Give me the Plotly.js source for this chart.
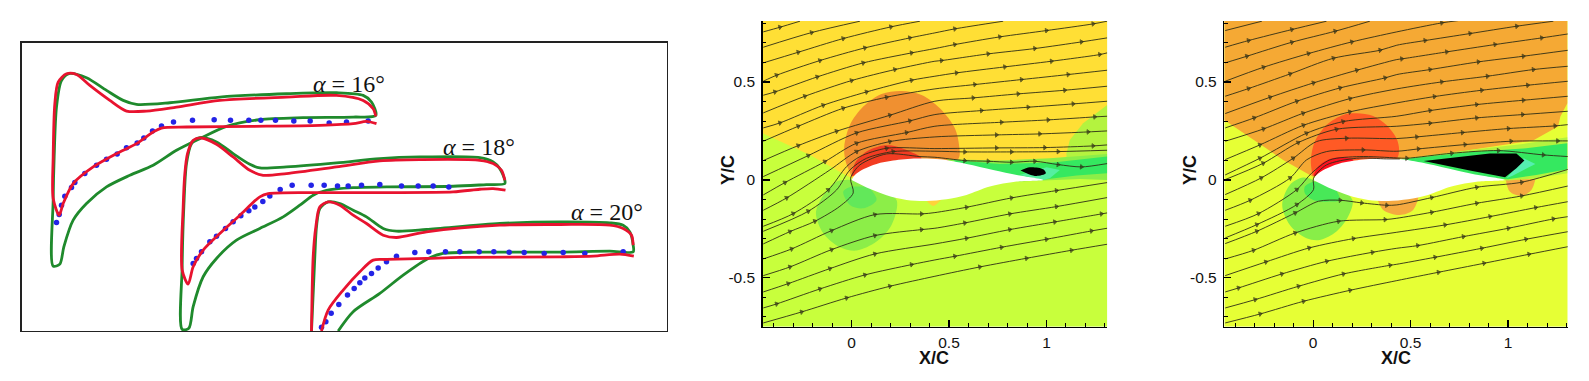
<!DOCTYPE html>
<html><head><meta charset="utf-8">
<script src="https://cdn.plot.ly/plotly-3.0.1.min.js"></script>
<style>html,body{margin:0;padding:0;background:#fff}</style></head>
<body><div id="g" style="width:1589px;height:381px"></div>
<script>
// ---- left panel: Cp-type curves, digitised units (no visible scale) ----
const g16x=[100,120,132,160,200,260,330,400,470,540,620,720,850,1000,1068,1055,1030,950,800,600,450,350,310,260,200,150,125,110,103,100,100];
const g16y=[678,672,620,540,490,440,405,375,330,295,258,238,232,230,225,185,165,157,160,170,187,192,180,150,112,99,120,200,350,480,678];
const r16x=[1070,1040,1000,900,700,500,425,400,350,290,220,160,130,118,100,100,105,115,140,170,210,270,320,380,470,600,800,950,1030,1060,1068];
const r16y=[250,243,250,255,258,260,263,275,310,340,380,430,490,525,475,350,190,125,100,102,135,180,212,212,200,180,170,165,180,205,228];
const b16x=[110,118,125,135,155,165,195,230,260,292,320,352,372,398,425,461,518,583,632,687,723,767,822,871,928,980,1045];
const b16y=[547,523,495,468,442,427,400,375,357,341,322,308,293,272,257,245,240,238,240,240,240,240,242,242,248,245,242];
const g18x=[487,507,520,550,590,650,720,790,840,880,920,1000,1100,1300,1400,1455,1455,1440,1420,1380,1200,1080,950,800,720,690,640,590,540,515,500,492,487,487];
const g18y=[868,865,800,710,655,600,565,530,495,465,450,442,440,438,433,430,420,385,365,352,350,355,368,380,383,372,340,305,292,310,370,500,680,868];
const r18x=[1457,1420,1380,1300,1100,900,745,720,660,600,550,520,505,487,490,495,503,520,545,590,640,690,730,800,950,1080,1200,1380,1420,1445,1455];
const r18y=[450,445,447,455,457,457,460,470,525,580,630,680,732,690,500,400,340,300,293,312,350,390,405,400,380,362,358,360,370,390,420];
const b18x=[520,530,545,570,590,617,640,663,687,705,729,750,781,817,874,913,953,985,1025,1080,1145,1195,1240,1287];
const b18y=[670,655,635,605,588,565,545,527,512,500,484,467,448,435,435,435,437,437,435,433,437,437,437,440];
const g20x=[955,1000,1080,1150,1225,1270,1370,1620,1770,1840,1840,1830,1810,1770,1620,1440,1220,1130,1090,1040,1000,960,925,900,890,885,875];
const g20y=[873,815,760,705,655,640,636,636,633,635,615,575,555,548,545,550,568,573,565,530,510,490,485,505,560,650,873];
const r20x=[905,925,970,1020,1060,1100,1220,1320,1620,1720,1800,1842];
const r20y=[873,810,750,695,660,658,655,652,650,648,642,648];
const r20tx=[1840,1835,1810,1770,1620,1440,1220,1130,1090,1040,1000,960,925,900,888,880,875];
const r20ty=[615,585,565,555,553,555,575,592,585,550,525,495,485,500,560,650,873];
const b20x=[905,918,934,957,983,1003,1020,1035,1055,1075,1100,1130,1185,1227,1277,1320,1378,1422,1468,1513,1573,1630,1695,1810];
const b20y=[862,845,820,793,765,745,728,714,700,684,665,648,637,635,635,635,635,635,636,637,640,637,640,635];
const alphaLabels=[['<i>α</i> = 16°',988,130],['<i>α</i> = 18°',1377,320],['<i>α</i> = 20°',1761,514]];

// ---- contour panels: digitised in image units, converted to X/C, Y/C below ----
const airfoilRead=[[455,510],[465,495],[490,478],[530,462],[580,452],[650,446],[720,448],[800,462],[880,480],[960,497],[1030,510],[950,515],[870,530],[800,555],[740,568],[680,573],[620,570],[560,556],[500,533]];
const regions2=[
 ['#ffdf35',[[188,370],[330,435],[410,480],[455,505],[530,470],[650,470],[800,480],[1000,470],[1100,440],[1222,440],[1222,33],[188,33]],0],
 ['#b4f33f',[[1100,430],[1110,390],[1150,340],[1222,285],[1222,445],[1100,445]],0],
 ['#f09030',[[455,500],[436,450],[433,410],[450,345],[490,290],[545,252],[605,243],[665,255],[720,295],[765,355],[778,410],[775,447],[650,470],[530,480]],1],
 ['#f23c22',[[455,500],[465,460],[500,425],[550,407],[590,410],[630,425],[665,445],[600,470],[530,480],[480,490]],1],
 ['#8cee48',[[455,510],[410,515],[365,565],[348,610],[370,670],[420,712],[470,722],[530,695],[575,645],[590,570],[540,540],[480,510]],1],
 ['#62e85a',[[455,530],[430,545],[450,585],[490,595],[530,570],[505,530]],1],
 ['#ffd23a',[[670,560],[700,588],[732,560]],1],
 ['#8cee48',[[740,448],[900,452],[1050,445],[1222,432],[1222,510],[1140,507],[1030,512],[960,515],[800,490]],0],
 ['#35e860',[[760,450],[900,462],[1060,458],[1222,440],[1222,490],[1130,497],[1040,508],[960,510],[800,490]],0],
 ['#55efa0',[[960,495],[1040,472],[1080,480],[1050,505],[1030,510]],0]
];
const black2=[[962,482],[990,472],[1030,478],[1038,490],[1010,498],[985,492]];
const regions3=[
 ['#f5a934',[[163,330],[250,390],[340,450],[428,500],[530,470],[690,465],[900,420],[1090,392],[1165,350],[1172,320],[1193,280],[1193,33],[163,33]],0],
 ['#ff5a25',[[428,497],[423,450],[435,395],[470,345],[520,315],[560,310],[610,318],[650,345],[680,385],[688,420],[680,447],[600,470],[500,480]],1],
 ['#ff1020',[[430,500],[445,470],[480,447],[520,442],[550,450],[520,475],[470,490]],1],
 ['#88ee48',[[430,510],[400,503],[360,525],[337,585],[360,645],[410,685],[450,690],[500,665],[535,620],[548,570],[500,530]],1],
 ['#48e858',[[430,515],[405,530],[405,550],[430,570],[480,575],[510,570],[490,525]],1],
 ['#f5a940',[[620,560],[640,600],[690,615],[730,600],[745,550],[700,550]],1],
 ['#f5a940',[[1008,508],[1020,545],[1055,558],[1085,540],[1097,508]],1],
 ['#b4f33f',[[690,447],[900,420],[1060,402],[1193,382],[1193,490],[1100,505],[1015,512],[900,500],[700,480]],0],
 ['#35e860',[[690,449],[900,426],[1060,416],[1193,400],[1193,478],[1100,495],[1015,508],[900,500],[700,480]],0],
 ['#55efb0',[[1062,445],[1097,462],[1030,497],[1010,505]],0]
];
const black3=[[762,453],[830,446],[960,431],[1040,431],[1064,452],[1040,475],[1006,502],[900,482],[820,465]];

// a third element 0 marks a read point without an arrowhead
const streams2=[
 [[190,66],[240,52],[300,34]],
 [[190,112],[335,68],[480,34]],
 [[190,159],[295,127],[430,86],[573,51],[660,34]],
 [[190,214],[230,196],[360,152],[495,114],[630,84],[705,69,0],[765,57],[910,34]],
 [[190,256],[225,246],[352,201],[490,159],[635,129],[705,116,0],[765,104],[900,81],[1040,62],[1180,42],[1222,34]],
 [[190,309],[315,259],[455,212],[585,179],[705,154,0],[725,152],[865,132],[1005,116],[1145,96],[1222,84]],
 [[190,354],[240,339],[370,286],[500,246],[635,211],[705,199,0],[770,189],[915,171],[1055,154],[1200,134],[1222,129]],
 [[190,394],[295,349],[430,295],[560,262],[705,237,0],[825,224],[965,209],[1105,194],[1222,181]],
 [[190,452],[295,407],[410,364],[570,316],[705,274,0],[820,264],[955,252],[1095,241],[1222,229]],
 [[190,500],[325,437],[470,369],[630,333],[705,314,0],[845,302],[985,292],[1120,282],[1222,274]],
 [[190,555],[255,518],[375,455],[470,400],[620,368],[705,349,0],[905,337],[1045,330],[1185,321],[1222,319]],
 [[190,601],[260,564],[390,480,0],[470,425],[570,395],[705,381,0],[890,375],[1020,372],[1165,366],[1222,363]],
 [[190,649],[280,611],[385,540],[440,470,0],[480,440,0],[560,415],[705,416,0],[890,414],[1035,413],[1180,408],[1222,405]],
 [[190,664],[325,604],[410,540,0],[450,480,0],[500,445,0],[580,425],[705,424,0],[795,426],[935,426],[1075,425],[1222,421]],
 [[190,702],[270,665],[345,634],[420,589,0],[460,549,0],[452,505,0],[480,465,0],[560,432,0],[660,440,0],[705,442,0],[795,452],[865,454],[935,457],[1005,454],[1075,464],[1145,471],[1222,461]],
 [[190,747],[275,717],[395,662],[525,614],[665,612],[705,608,0],[800,592],[935,564],[1070,542],[1222,518]],
 [[190,797],[270,771],[395,719],[525,677],[665,659],[705,655,0],[795,639],[930,612],[1070,590],[1222,563]],
 [[190,846],[265,821],[390,776],[525,732],[705,702,0],[800,685],[930,659],[1065,636],[1205,612],[1222,609]],
 [[190,894],[230,882],[360,837],[495,795],[635,764],[705,750,0],[765,739],[905,712],[1040,688],[1175,663],[1222,655]],
 [[190,939],[305,906],[440,864],[570,829],[705,799,0],[840,771],[980,745],[1115,721],[1222,703]]
];
const streams3=[
 [[166,62],[276,34]],
 [[166,112],[236,92],[366,59],[470,34]],
 [[166,159],[231,139],[366,97],[496,64],[600,34]],
 [[166,214],[281,172],[416,131],[546,96],[681,66,0],[816,39],[866,32]],
 [[166,259],[236,236],[361,192],[491,145],[631,121],[681,106,0],[766,92],[901,71],[1041,49],[1151,34]],
 [[166,311],[301,262],[431,219],[561,181],[681,149,0],[696,147],[831,126],[976,104],[1116,84],[1196,72]],
 [[166,354],[253,324],[381,274],[511,234],[646,204],[681,194,0],[781,179],[926,156],[1061,139],[1196,121]],
 [[166,394],[281,357],[400,310],[541,266],[681,237,0],[816,216],[953,199],[1091,179],[1196,169]],
 [[166,449],[270,405],[401,346],[540,306],[681,279,0],[794,260],[936,241],[1074,226],[1196,214]],
 [[166,495],[270,445],[410,370],[520,335],[681,319,0],[781,302],[921,284],[1061,271],[1196,259]],
 [[166,509],[280,460],[385,398],[500,358],[681,349,0],[781,340],[921,324],[1059,314],[1196,304]],
 [[166,554],[274,504],[370,445],[440,395,0],[530,385],[681,386,0],[741,381],[878,368],[1016,356],[1156,348],[1196,344]],
 [[166,601],[241,571],[361,504],[410,450,0],[470,425,0],[580,420],[681,424,0],[746,417],[886,404],[1024,394],[1164,393],[1196,393]],
 [[166,649],[266,611],[381,539],[425,490,0],[480,450,0],[570,440,0],[681,444,0],[711,445],[846,430],[986,422],[1121,435],[1196,440]],
 [[166,684],[261,644],[381,584],[431,539,0],[431,505,0],[470,465,0],[560,445,0],[650,447,0],[690,447,0]],
 [[166,701],[261,664],[376,609],[446,574,0],[511,571],[576,579],[651,586],[681,585,0],[786,563],[921,532],[1056,517],[1196,478]],
 [[166,747],[251,721],[376,669],[506,634],[646,629],[681,625,0],[786,607],[921,580],[1056,558],[1196,528]],
 [[166,797],[288,756],[418,714],[551,686],[681,667,0],[826,645],[961,620],[1098,593],[1196,575]],
 [[166,846],[206,834],[336,792],[471,754],[608,727],[681,715,0],[744,707],[881,680],[1016,655],[1151,627],[1196,620]],
 [[166,894],[256,869],[386,829],[521,792],[661,766],[681,763,0],[796,742],[936,715],[1069,688],[1196,665]],
 [[166,939],[271,912],[401,874],[541,841],[681,812,0],[806,787],[943,760],[1078,733],[1196,710]]
];

const X2=z=>(z-455)/585, X3=z=>(z-430)/585, Y=z=>(510-z)/587;
const traces=[];
function fillTrace(ax,fx,color,pts,smooth){
  traces.push({x:pts.map(p=>fx(p[0])),y:pts.map(p=>Y(p[1])),xaxis:'x'+ax,yaxis:'y'+ax,mode:'lines',
    line:{width:0,shape:smooth?'spline':'linear',smoothing:0.9},fill:'toself',fillcolor:color,hoverinfo:'skip',showlegend:false});
}
function contour(ax,fx,base,regions,black,blackSmooth,streams,x0,x1){
  fillTrace(ax,z=>z,base,[[x0,(510+0.75*587)],[x1,(510+0.75*587)],[x1,(510-0.812*587)],[x0,(510-0.812*587)]],0);
  regions.forEach(r=>fillTrace(ax,fx,r[0],r[1],r[2]));
  const shift=ax==3?-25:0;
  fillTrace(ax,fx,'#ffffff',airfoilRead.map(p=>[p[0]+shift,p[1]]),1);
  fillTrace(ax,fx,'#000000',black,blackSmooth);
  streams.forEach(s=>{
    traces.push({x:s.map(p=>fx(p[0])),y:s.map(p=>Y(p[1])),xaxis:'x'+ax,yaxis:'y'+ax,mode:'lines+markers',
      line:{color:'#2e2e16',width:0.9,shape:'spline',smoothing:0.8},
      marker:{symbol:'triangle-up',angleref:'previous',color:'#33331a',
        size:s.map((p,i)=>(i==0||i==s.length-1||p[2]===0)?0:4)},
      cliponaxis:true,hoverinfo:'skip',showlegend:false});
  });
}
function curve(x,y,c,w){traces.push({x,y,xaxis:'x',yaxis:'y',mode:'lines',line:{color:c,width:w||2.8,shape:'spline',smoothing:0.8},hoverinfo:'skip',showlegend:false});}
function dots(x,y){traces.push({x,y,xaxis:'x',yaxis:'y',mode:'markers',marker:{color:'#2323e6',size:5.5},hoverinfo:'skip',showlegend:false});}
curve(g16x,g16y,'#1f8a2c');curve(g18x,g18y,'#1f8a2c');curve(g20x,g20y,'#1f8a2c');
dots(b16x,b16y);dots(b18x,b18y);dots(b20x,b20y);
curve(r16x,r16y,'#e8132f');curve(r18x,r18y,'#e8132f');curve(r20x,r20y,'#e8132f');curve(r20tx,r20ty,'#e8132f');

contour(2,X2,'#c8ff3c',regions2,black2,1,streams2,-0.456,1.312);
contour(3,X3,'#e6ff35',regions3,black3,0,streams3,-0.456,1.306);

const W=1589,H=381;
const fnt={family:'"Liberation Sans",Arial,sans-serif',size:15.5,color:'#111'};
const tfnt={family:'"Liberation Sans",Arial,sans-serif',size:18,color:'#111'};
function xAxis(anchor,dom,range){return {domain:[dom[0]/W,dom[1]/W],range,anchor,showgrid:false,zeroline:false,
  tickmode:'array',tickvals:[0,0.5,1],ticktext:['0','0.5','1'],ticks:'inside',ticklen:7,tickwidth:1.3,tickcolor:'#000',tickfont:fnt,
  minor:{dtick:0.1,tick0:0,ticks:'inside',ticklen:3.5,tickwidth:1,tickcolor:'#000'},
  showline:true,linecolor:'#000',linewidth:1.5,ticklabelstandoff:1};}
function yAxis(anchor){return {domain:[1-326.7/H,1-21/H],range:[-0.75,0.812],anchor,showgrid:false,zeroline:false,
  tickmode:'array',tickvals:[-0.5,0,0.5],ticktext:['-0.5','0','0.5'],ticks:'inside',ticklen:7,tickwidth:1.3,tickcolor:'#000',tickfont:fnt,
  minor:{dtick:0.1,tick0:0,ticks:'inside',ticklen:3.5,tickwidth:1,tickcolor:'#000'},
  showline:true,linecolor:'#000',linewidth:1.5,ticklabelstandoff:3};}
const yTitles=[728,1190];
const xTitles=[934,1396];
const layout={width:W,height:H,margin:{l:0,r:0,t:0,b:0},paper_bgcolor:'#fff',plot_bgcolor:'#fff',showlegend:false,
  xaxis:{domain:[21.5/W,666.5/W],range:[5,1940],showticklabels:false,ticks:'',showgrid:false,zeroline:false,mirror:true,showline:true,linecolor:'#222',linewidth:1.3,anchor:'y'},
  yaxis:{domain:[1-331/H,1-42.5/H],range:[873,6],showticklabels:false,ticks:'',showgrid:false,zeroline:false,mirror:true,showline:true,linecolor:'#222',linewidth:1.3,anchor:'x'},
  xaxis2:xAxis('y2',[762.7,1107.3],[-0.456,1.312]),yaxis2:yAxis('x2'),
  xaxis3:xAxis('y3',[1224.3,1567.7],[-0.456,1.306]),yaxis3:yAxis('x3'),
  annotations:alphaLabels.map(a=>({xref:'x',yref:'y',x:a[1],y:a[2],text:a[0],showarrow:false,xanchor:'center',yanchor:'middle',
    font:{family:'"Liberation Serif",serif',size:24,color:'#111'}})).concat(
    yTitles.map(px=>({xref:'paper',yref:'paper',x:px/W,y:1-170/H,text:'<b>Y/C</b>',textangle:-90,showarrow:false,xanchor:'center',yanchor:'middle',font:tfnt})),
    xTitles.map(px=>({xref:'paper',yref:'paper',x:px/W,y:1-358/H,text:'<b>X/C</b>',showarrow:false,xanchor:'center',yanchor:'middle',font:tfnt})))};
Plotly.newPlot('g',traces,layout,{staticPlot:true,displayModeBar:false});
</script></body></html>
